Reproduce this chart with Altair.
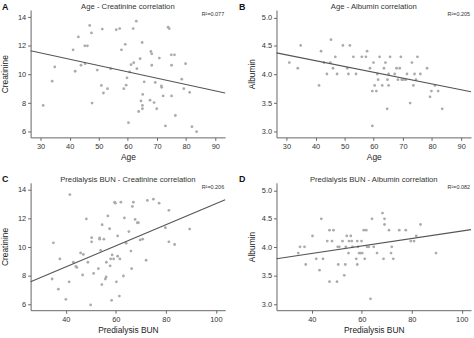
import altair as alt
import pandas as pd

FONT = "Liberation Sans"
W, H = 197, 129

# ---------- Panel A: Age vs Creatinine ----------
age_a = [30.9, 34.0, 34.9, 41.2, 41.9, 43.0, 43.9, 45.3, 45.2, 46.1, 46.9, 47.5, 47.7, 49.5, 50.9,
         51.2, 51.6, 53.0, 54.1, 56.0, 57.2, 57.8, 58.6, 59.1, 59.4, 59.7, 60.2, 60.6, 61.1, 61.8,
         62.0, 62.9, 63.1, 63.7, 64.2, 64.5, 64.9, 65.0, 65.0, 65.1, 65.6, 67.6, 67.9, 68.2, 68.2,
         69.0, 69.4, 69.9, 70.8, 71.5, 71.6, 72.1, 72.9, 73.8, 74.2, 74.9, 75.0, 75.0, 76.0, 76.3,
         78.5, 79.2, 79.8, 81.2, 82.0, 83.6]
creat_a = [7.83, 9.53, 10.52, 11.72, 10.22, 12.62, 10.64, 10.75, 12.0, 12.0, 13.42, 12.9, 8.0, 10.3, 9.23,
           13.17, 8.7, 9.0, 10.4, 13.12, 13.2, 11.72, 9.0, 12.1, 9.25, 9.76, 6.63, 10.17, 10.68, 13.2,
           10.82, 13.72, 10.4, 7.41, 11.1, 8.15, 12.23, 7.83, 7.6, 8.6, 9.48, 8.2, 11.6, 11.44, 10.64,
           8.03, 9.44, 7.6, 11.14, 9.2, 9.1, 8.5, 6.4, 13.3, 13.2, 11.37, 10.64, 8.5, 11.37, 7.13,
           9.67, 9.0, 10.75, 8.75, 6.35, 6.0]
line_a_x = [26.6, 93.4]
line_a_y = [11.65, 8.70]

# ---------- Panel B: Age vs Albumin ----------
age_b = [31.0, 33.9, 34.9, 41.2, 41.9, 42.9, 43.9, 45.1, 45.3, 46.0, 46.8, 47.4, 49.4, 50.9, 51.3,
         51.8, 53.0, 53.9, 55.9, 57.3, 57.7, 58.7, 59.5, 59.5, 59.9, 60.3, 60.9, 61.2, 61.5, 62.0,
         62.9, 63.5, 64.0, 64.6, 64.7, 65.1, 65.1, 65.6, 67.2, 67.8, 68.3, 68.9, 69.3, 69.6, 70.2,
         71.0, 71.4, 72.5, 73.1, 73.6, 74.0, 74.5, 75.0, 76.0, 78.3, 79.3, 79.8, 81.0, 82.1, 83.5]
alb_b = [4.21, 4.11, 4.51, 3.81, 4.41, 4.21, 4.01, 4.21, 4.61, 4.11, 4.31, 4.01, 4.51, 4.11, 4.01,
         4.51, 4.31, 4.01, 4.31, 4.31, 4.41, 4.11, 3.71, 3.10, 4.21, 3.81, 3.71, 4.01, 3.91, 4.31,
         3.81, 4.11, 4.21, 3.40, 3.91, 4.01, 3.81, 4.31, 4.01, 4.11, 3.91, 4.11, 4.31, 3.91, 3.91,
         3.91, 4.01, 3.50, 4.21, 3.81, 4.01, 3.91, 4.31, 4.01, 4.11, 3.61, 3.71, 3.81, 3.71, 3.40]
line_b_x = [26.6, 93.4]
line_b_y = [4.38, 3.70]

# ---------- Panel C: Predialysis BUN vs Creatinine ----------
bun_c = [35.0, 34.5, 37.0, 37.6, 40.0, 41.3, 41.6, 43.0, 44.0, 44.4, 45.9, 47.0, 46.7, 48.2, 48.8,
         49.9, 50.3, 50.3, 51.1, 53.0, 53.5, 53.5, 53.9, 54.4, 54.5, 55.2, 55.8, 56.1, 56.2, 56.8,
         57.5, 57.7, 57.9, 58.3, 58.5, 59.1, 59.5, 59.8, 60.2, 60.7, 60.7, 61.4, 61.6, 62.0, 63.0,
         63.4, 64.1, 65.2, 66.0, 66.3, 66.6, 67.0, 67.7, 68.6, 69.0, 69.7, 70.7, 72.1, 72.6, 75.0,
         77.3, 79.8, 81.2, 81.2, 83.5, 89.5]
creat_c = [10.31, 7.78, 7.07, 9.18, 6.36, 7.58, 13.68, 8.95, 8.66, 8.59, 9.60, 9.50, 8.06, 11.98, 8.95,
           5.97, 10.67, 10.38, 8.17, 8.50, 10.65, 10.56, 9.78, 7.39, 11.57, 10.56, 7.78, 7.92, 8.95, 12.19,
           11.29, 8.70, 9.18, 6.29, 9.46, 9.18, 13.15, 13.08, 7.58, 10.79, 9.37, 6.59, 9.18, 13.15, 7.99,
           12.05, 10.28, 11.09, 9.73, 8.50, 12.85, 13.15, 11.94, 11.71, 11.71, 10.51, 10.56, 9.09, 13.27, 13.36,
           13.08, 11.36, 12.58, 10.38, 10.19, 11.27]
line_c_x = [25.9, 103.7]
line_c_y = [7.58, 13.31]

# ---------- Panel D: Predialysis BUN vs Albumin ----------
bun_d = [34.6, 35.3, 37.1, 37.6, 40.3, 41.8, 43.1, 43.8, 44.5, 46.2, 47.1, 47.1, 48.1, 48.7, 50.1,
         50.4, 50.6, 51.0, 52.3, 53.0, 53.4, 53.6, 54.0, 54.7, 54.9, 55.6, 56.0, 56.3, 57.8, 58.2,
         58.2, 58.5, 58.9, 59.5, 59.9, 60.2, 60.8, 61.2, 61.8, 62.1, 62.8, 63.5, 64.1, 64.8, 66.1,
         68.3, 68.7, 69.1, 69.1, 70.9, 71.7, 72.0, 72.6, 75.0, 77.6, 79.6, 80.9, 81.8, 83.5, 89.7]
alb_d = [3.90, 4.01, 4.01, 3.70, 4.20, 3.80, 3.60, 4.50, 3.80, 4.11, 4.30, 3.40, 4.11, 4.30, 3.40,
         4.01, 3.70, 4.01, 4.11, 3.51, 3.70, 4.01, 4.20, 3.90, 4.11, 4.20, 4.11, 4.01, 3.80, 4.11,
         3.70, 4.01, 3.90, 3.90, 4.11, 3.90, 4.30, 3.80, 4.30, 4.01, 4.01, 3.10, 4.50, 4.01, 3.90,
         4.60, 3.80, 4.50, 4.40, 4.30, 3.90, 4.01, 3.80, 4.30, 4.30, 4.11, 4.11, 4.20, 4.40, 3.90]
line_d_x = [25.9, 103.7]
line_d_y = [3.80, 4.31]


def panel(xv, yv, lx, ly, xname, yname, xdom, ydom, xticks, yticks, yfmt,
          title, letter, r2, letter_dx, ytitle_pad):
    df = pd.DataFrame({"x": xv, "y": yv})
    ldf = pd.DataFrame({"x": lx, "y": ly})
    xs = alt.Scale(domain=xdom, nice=False, zero=False)
    ys = alt.Scale(domain=ydom, nice=False, zero=False)
    xax = alt.Axis(values=xticks, title=xname, format="d", titlePadding=3,
                   labelOverlap=False, labelFlush=False)
    yax = alt.Axis(values=yticks, title=yname, format=yfmt, titlePadding=ytitle_pad,
                   labelOverlap=False, labelFlush=False)
    enc_x = alt.X("x:Q", scale=xs, axis=xax)
    enc_y = alt.Y("y:Q", scale=ys, axis=yax)
    pts = alt.Chart(df).mark_circle(size=8, color="#ababab", opacity=1).encode(x=enc_x, y=enc_y)
    line = alt.Chart(ldf).mark_line(color="#555555", strokeWidth=1.1).encode(x=enc_x, y=enc_y)
    r2t = alt.Chart(pd.DataFrame({"t": [r2]})).mark_text(
        align="right", baseline="middle", fontSize=5.5, font=FONT, color="#333333"
    ).encode(x=alt.value(W - 1), y=alt.value(4), text="t:N")
    tt = alt.Chart(pd.DataFrame({"t": [title]})).mark_text(
        align="center", baseline="middle", fontSize=7.8, font=FONT, color="#333333"
    ).encode(x=alt.value(W / 2), y=alt.value(-3.3), text="t:N")
    let = alt.Chart(pd.DataFrame({"t": [letter]})).mark_text(
        align="left", baseline="middle", fontSize=9, fontWeight="bold", font=FONT, color="#111111"
    ).encode(x=alt.value(letter_dx), y=alt.value(-3.5), text="t:N")
    return alt.layer(pts, line, r2t, tt, let).properties(width=W, height=H)


pa = panel(age_a, creat_a, line_a_x, line_a_y, "Age", "Creatinine", [26.6, 93.4], [5.6, 14.5],
           [30, 40, 50, 60, 70, 80, 90], [6, 8, 10, 12, 14], "d",
           "Age - Creatinine correlation", "A", "R²=0.077", -29, 8)
pb = panel(age_b, alb_b, line_b_x, line_b_y, "Age", "Albumin", [26.6, 93.4], [2.9, 5.13],
           [30, 40, 50, 60, 70, 80, 90], [3.0, 3.5, 4.0, 4.5, 5.0], ".1f",
           "Age - Albumin correlation", "B", "R²=0.205", -38, 5)
pc = panel(bun_c, creat_c, line_c_x, line_c_y, "Predialysis BUN", "Creatinine", [25.9, 103.7], [5.6, 14.5],
           [40, 60, 80, 100], [6, 8, 10, 12, 14], "d",
           "Predialysis BUN - Creatinine correlation", "C", "R²=0.206", -29, 8)
pd_ = panel(bun_d, alb_d, line_d_x, line_d_y, "Predialysis BUN", "Albumin", [25.9, 103.7], [2.9, 5.13],
            [40, 60, 80, 100], [3.0, 3.5, 4.0, 4.5, 5.0], ".1f",
            "Predialysis BUN - Albumin correlation", "D", "R²=0.082", -38, 5)

row1 = alt.hconcat(pa, pb, spacing=11)
row2 = alt.hconcat(pc, pd_, spacing=11)

chart = alt.vconcat(row1, row2, spacing=14).properties(
    padding={"left": 0, "top": 0, "right": 0, "bottom": 0},
    background="white",
).configure_view(stroke=None).configure_axis(
    grid=False,
    domainColor="#666666",
    tickColor="#666666",
    tickSize=3,
    labelFont=FONT,
    labelFontSize=7.5,
    labelColor="#333333",
    labelPadding=2,
    labelOverlap=False,
    titleFont=FONT,
    titleFontSize=8.5,
    titleFontWeight="normal",
    titleColor="#222222",
).configure_concat(spacing=11)

chart.save("out.html", embed_options={"renderer": "svg", "actions": False})
